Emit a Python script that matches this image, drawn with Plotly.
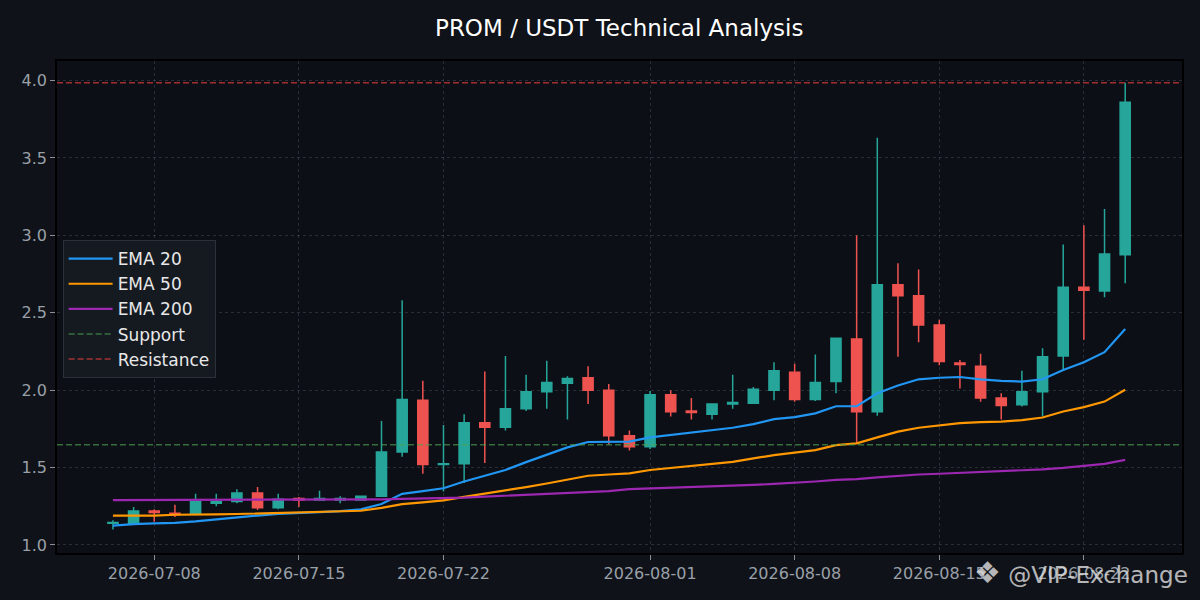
import pandas as pd
import plotly.graph_objects as go

# daily candles, 2026-07-06 .. 2026-08-24
dates = pd.date_range("2026-07-06", "2026-08-24", freq="D")

opens = [1.14, 1.14, 1.22, 1.205, 1.20, 1.27, 1.28, 1.335, 1.24, 1.30,
         1.29, 1.29, 1.29, 1.315, 1.60, 1.935, 1.52, 1.525, 1.79, 1.76,
         1.88, 1.99, 2.045, 2.08, 2.00, 1.705, 1.635, 1.97, 1.865, 1.845,
         1.91, 1.915, 2.00, 2.115, 1.94, 2.055, 2.33, 1.86, 2.68, 2.61,
         2.42, 2.175, 2.155, 1.95, 1.905, 1.99, 2.22, 2.665, 2.64, 2.875]
highs = [1.16, 1.245, 1.23, 1.26, 1.33, 1.33, 1.36, 1.375, 1.33, 1.31,
         1.35, 1.315, 1.32, 1.80, 2.58, 2.06, 1.775, 1.845, 2.12, 2.22,
         2.10, 2.19, 2.09, 2.155, 2.04, 1.74, 1.995, 2.00, 1.95, 1.915,
         2.10, 2.02, 2.18, 2.17, 2.23, 2.335, 3.00, 3.63, 2.82, 2.78,
         2.455, 2.195, 2.235, 1.98, 2.125, 2.27, 2.94, 3.065, 3.17, 3.985]
lows = [1.10, 1.13, 1.15, 1.18, 1.20, 1.25, 1.27, 1.225, 1.23, 1.245,
        1.285, 1.27, 1.29, 1.31, 1.57, 1.46, 1.345, 1.40, 1.53, 1.74,
        1.865, 1.88, 1.81, 1.91, 1.65, 1.61, 1.62, 1.83, 1.81, 1.81,
        1.88, 1.91, 1.935, 1.925, 1.93, 1.98, 1.655, 1.835, 2.215, 2.31,
        2.16, 2.01, 1.925, 1.81, 1.895, 1.83, 2.13, 2.325, 2.60, 2.69]
closes = [1.145, 1.22, 1.21, 1.195, 1.28, 1.28, 1.335, 1.24, 1.295, 1.29,
          1.30, 1.30, 1.315, 1.60, 1.94, 1.52, 1.525, 1.79, 1.76, 1.88,
          1.99, 2.05, 2.075, 2.00, 1.705, 1.635, 1.97, 1.86, 1.855, 1.91,
          1.92, 2.005, 2.125, 1.94, 2.05, 2.335, 1.86, 2.68, 2.61, 2.42,
          2.185, 2.165, 1.95, 1.90, 1.99, 2.215, 2.665, 2.645, 2.88, 3.86]

ema20 = [1.125, 1.135, 1.14, 1.143, 1.152, 1.165, 1.18, 1.19, 1.20, 1.208,
         1.212, 1.219, 1.23, 1.264, 1.33, 1.348, 1.366, 1.41, 1.445, 1.484,
         1.535, 1.585, 1.63, 1.665, 1.667, 1.667, 1.695, 1.71, 1.723, 1.74,
         1.757, 1.78, 1.813, 1.826, 1.85, 1.896, 1.896, 1.98, 2.03, 2.07,
         2.08, 2.085, 2.07, 2.06, 2.055, 2.07, 2.13, 2.18, 2.245, 2.395]
ema50 = [1.19, 1.19, 1.19, 1.195, 1.195, 1.198, 1.20, 1.204, 1.207, 1.21,
         1.212, 1.217, 1.221, 1.24, 1.264, 1.275, 1.288, 1.31, 1.33, 1.35,
         1.374, 1.397, 1.42, 1.447, 1.455, 1.462, 1.484, 1.497, 1.51, 1.523,
         1.537, 1.559, 1.58, 1.596, 1.613, 1.645, 1.656, 1.695, 1.732, 1.757,
         1.77, 1.787, 1.793, 1.797, 1.806, 1.823, 1.862, 1.89, 1.926, 2.002]
ema200 = [1.29, 1.29, 1.29, 1.29, 1.29, 1.29, 1.29, 1.29, 1.29, 1.29,
          1.291, 1.291, 1.292, 1.294, 1.297, 1.299, 1.30, 1.306, 1.312, 1.318,
          1.324, 1.33, 1.336, 1.342, 1.348, 1.36, 1.364, 1.368, 1.372, 1.377,
          1.382, 1.388, 1.394, 1.40, 1.41, 1.42, 1.425, 1.437, 1.447, 1.455,
          1.46, 1.466, 1.47, 1.474, 1.48, 1.488, 1.498, 1.51, 1.524, 1.55]

support = 1.647
resistance = 3.985

x_range = ["2026-07-03 07:00", "2026-08-26 18:00"]
y_range = [0.948, 4.126]
x_ticks = ["2026-07-08", "2026-07-15", "2026-07-22", "2026-08-01",
           "2026-08-08", "2026-08-15", "2026-08-22"]
y_ticks = [1.0, 1.5, 2.0, 2.5, 3.0, 3.5, 4.0]

fig = go.Figure()

fig.add_trace(go.Candlestick(
    x=dates, open=opens, high=highs, low=lows, close=closes,
    increasing=dict(line=dict(color="#26a69a", width=1.5), fillcolor="#26a69a"),
    decreasing=dict(line=dict(color="#ef5350", width=1.5), fillcolor="#ef5350"),
    whiskerwidth=0, showlegend=False, hoverinfo="skip",
))

lines = [("EMA 20", ema20, "#2196f3"),
         ("EMA 50", ema50, "#ff9800"),
         ("EMA 200", ema200, "#9c27b0")]
for name, vals, col in lines:
    fig.add_trace(go.Scatter(x=dates, y=vals, mode="lines", name=name,
                             legendgroup=name,
                             line=dict(color=col, width=2.2)))

for name, level, col in [("Support", support, "rgba(76,160,80,0.65)"),
                         ("Resistance", resistance, "rgba(200,55,55,0.8)")]:
    fig.add_trace(go.Scatter(x=x_range, y=[level, level], mode="lines",
                             name=name, legendgroup=name,
                             line=dict(color=col, width=1.5, dash="6px,3px")))

axis_style = dict(
    showgrid=True, gridcolor="rgba(120,130,140,0.28)", griddash="dot",
    gridwidth=1, zeroline=False, ticks="outside", ticklen=5,
    tickcolor="#8a8f98", tickfont=dict(family="DejaVu Sans", size=16, color="#9aa0a8"),
    showline=True, linecolor="#000000", linewidth=1.5, mirror=True,
)

fig.update_layout(
    width=1200, height=600,
    paper_bgcolor="#0f1219", plot_bgcolor="#0c0f16",
    margin=dict(l=57, r=18, t=61, b=47),
    title=dict(text="PROM / USDT Technical Analysis", x=0.516, xanchor="center",
               y=0.953, yanchor="middle",
               font=dict(family="DejaVu Sans", size=23, color="#ffffff")),
    xaxis=dict(range=x_range, tickvals=x_ticks, tickformat="%Y-%m-%d",
               rangeslider=dict(visible=False), **axis_style),
    yaxis=dict(range=y_range, tickvals=y_ticks, tickformat=".1f", **axis_style),
    legend=dict(x=0.005, y=0.636, xanchor="left", yanchor="top",
                bgcolor="#151a21", bordercolor="#2c3139", borderwidth=1,
                font=dict(family="DejaVu Sans", size=17, color="#e8e8e8"),
                tracegroupgap=0, itemwidth=44),
    showlegend=True,
)

# watermark, sits over the last date label as in the source
fig.add_annotation(text="<span style='font-size:30px'>❖</span> @VIP-Exchange",
                   xref="paper", yref="paper",
                   x=1.007, y=-0.04, xanchor="right", yanchor="middle",
                   showarrow=False, opacity=0.8,
                   font=dict(family="DejaVu Sans", size=23, color="#e0e0e0"))

# drop the default page margin so the figure sits at the window's corner
fig.write_html("out.html", config={"displayModeBar": False},
               post_script="document.body.style.margin='0';document.body.style.background='#0f1219';")
